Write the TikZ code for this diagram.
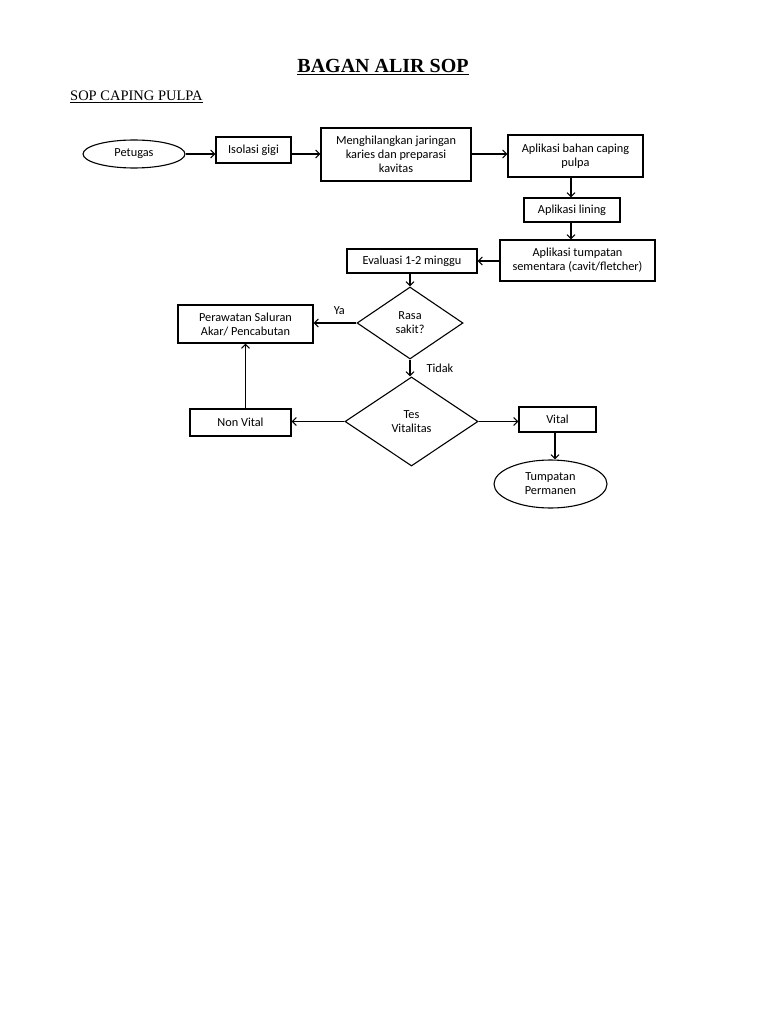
\documentclass[tikz,border=0pt]{standalone}
\usepackage{fontspec}
\setmainfont{Carlito}
\newfontfamily\titlefont{Liberation Serif}
\usetikzlibrary{shapes.geometric,arrows.meta}
\begin{document}
\begin{tikzpicture}[x=1pt,y=-1pt,
  every node/.style={font=\fontsize{12.3}{14}\selectfont, align=center, inner sep=0pt},
  box/.style={draw, line width=1.1pt},
  oval/.style={draw, ellipse, line width=1.1pt},
  dia/.style={draw, diamond, line width=1.1pt},
  arr/.style={line width=1.1pt, -{Straight Barb[length=4pt,width=8pt]}},
  lbl/.style={font=\fontsize{12.3}{14}\selectfont}]
\useasboundingbox (0,0) rectangle (768,1024);
\node (title) at (383,67) {\titlefont\fontsize{20}{24}\selectfont\bfseries\underline{BAGAN ALIR SOP}};
\node[anchor=west] (sub) at (70,97) {\titlefont\fontsize{14.5}{17}\selectfont\underline{SOP CAPING PULPA}};

\node[oval, minimum width=102pt, minimum height=28pt] (pet) at (134,154) {Petugas};
\node[box, minimum width=75pt, minimum height=26pt] (iso) at (253.5,150) {Isolasi gigi};
\node[box, minimum width=150pt, minimum height=53pt] (meng) at (396,154.5) {Menghilangkan jaringan\\karies dan preparasi\\kavitas};
\node[box, minimum width=135pt, minimum height=42pt] (bahan) at (575.5,156) {Aplikasi bahan caping\\pulpa};
\node[box, minimum width=96pt, minimum height=24pt] (lin) at (572,210) {Aplikasi lining};
\node[box, minimum width=155pt, minimum height=41pt] (tump) at (577.5,260.5) {Aplikasi tumpatan\\sementara (cavit/fletcher)};
\node[box, minimum width=130pt, minimum height=24pt] (eval) at (412,261) {Evaluasi 1-2 minggu};
\node[dia, minimum width=106pt, minimum height=72pt] (rasa) at (410,323) {Rasa\\sakit?};
\node[box, minimum width=135pt, minimum height=38pt] (pera) at (245.5,324) {Perawatan Saluran\\Akar/ Pencabutan};
\node[dia, minimum width=133pt, minimum height=89pt] (tes) at (411.5,421.5) {Tes\\Vitalitas};
\node[box, minimum width=101pt, minimum height=27pt] (non) at (240.5,422.5) {Non Vital};
\node[box, minimum width=77pt, minimum height=25pt] (vit) at (557.5,419.5) {Vital};
\node[oval, minimum width=113pt, minimum height=48pt] (perm) at (550.5,484) {Tumpatan\\Permanen};

\draw[arr] (pet.east) -- (iso.west |- pet.east);
\draw[arr] (iso.east |- pet.east) -- (meng.west |- pet.east);
\draw[arr] (meng.east |- pet.east) -- (bahan.west |- pet.east);
\draw[arr] (571,177) coordinate (b1) -- (lin.north -| b1);
\draw[arr] (lin.south -| b1) -- (tump.north -| b1);
\draw[arr] (tump.west |- eval.east) -- (eval.east);
\draw[arr] (eval.south -| rasa.north) -- (rasa.north);
\draw[arr] (rasa.west) -- (pera.east |- rasa.west) node[lbl, pos=0.4, above=8pt] (ya) {Ya};
\draw[arr] (rasa.south) -- (tes.north -| rasa.south) node[lbl, pos=0.5, right=16pt] (tidak) {Tidak};
\draw[arr] (tes.west) -- (non.east |- tes.west);
\draw[arr] (non.north -| pera.south) -- (pera.south);
\draw[arr] (tes.east) -- (vit.west |- tes.east);
\draw[arr] (vit.south -| 555,0) -- (perm.north -| 555,0);
\end{tikzpicture}
\end{document}
